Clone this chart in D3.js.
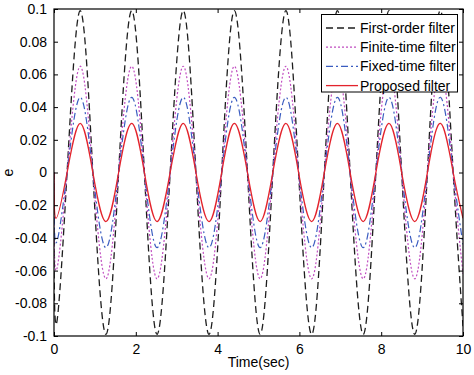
<!doctype html>
<html>
<head>
<meta charset="utf-8">
<script src="https://cdn.jsdelivr.net/npm/d3@7/dist/d3.min.js"></script>
<style>
  body { margin: 0; background: #fff; }
  svg { font-family: "Liberation Sans", Arial, sans-serif; }
</style>
</head>
<body>
<div id="chart"></div>
<script>
// node times (s): start, first dip, then zero crossings / extremes
var time = [0, 0.05, 0.32, 0.64, 0.95, 1.27, 1.58, 1.90, 2.21, 2.52, 2.84, 3.16, 3.47, 3.79, 4.10, 4.41, 4.73,
            5.04, 5.35, 5.67, 5.98, 6.30, 6.61, 6.93, 7.24, 7.56, 7.87, 8.19, 8.50, 8.82, 9.13, 9.45, 9.76, 10];

var firstOrder = [0, -0.093, 0, 0.099, 0, -0.099, 0, 0.099, 0, -0.099, 0, 0.099, 0, -0.099, 0, 0.099, 0,
                  -0.099, 0, 0.099, 0, -0.099, 0, 0.099, 0, -0.099, 0, 0.099, 0, -0.099, 0, 0.099, 0, -0.094];
var finiteTime = [0, -0.060, 0, 0.065, 0, -0.065, 0, 0.065, 0, -0.065, 0, 0.065, 0, -0.065, 0, 0.065, 0,
                  -0.065, 0, 0.065, 0, -0.065, 0, 0.065, 0, -0.065, 0, 0.065, 0, -0.065, 0, 0.065, 0, -0.062];
var fixedTime = [0, -0.043, 0, 0.046, 0, -0.046, 0, 0.046, 0, -0.046, 0, 0.046, 0, -0.046, 0, 0.046, 0,
                 -0.046, 0, 0.046, 0, -0.046, 0, 0.046, 0, -0.046, 0, 0.046, 0, -0.046, 0, 0.046, 0, -0.044];
var proposed = [0, -0.028, 0, 0.030, 0, -0.030, 0, 0.030, 0, -0.030, 0, 0.030, 0, -0.030, 0, 0.030, 0,
                -0.030, 0, 0.030, 0, -0.030, 0, 0.030, 0, -0.030, 0, 0.030, 0, -0.030, 0, 0.030, 0, -0.028];

var seriesNames = ["First-order filter", "Finite-time filter", "Fixed-time filter", "Proposed filter"];
var xTicks = [0, 2, 4, 6, 8, 10];
var yTicks = [-0.1, -0.08, -0.06, -0.04, -0.02, 0, 0.02, 0.04, 0.06, 0.08, 0.1];

var styles = [
  { color: "#1e1e1e", dash: "7,4", width: 1.3 },
  { color: "#c04cc0", dash: "2,2", width: 1.2 },
  { color: "#3a5cc0", dash: "7,3,2,3", width: 1.2 },
  { color: "#e3232c", dash: null, width: 1.3 }
];
var allSeries = [firstOrder, finiteTime, fixedTime, proposed];

var W = 474, H = 375;
var pLeft = 54, pRight = 463, pTop = 9, pBottom = 336;

var svg = d3.select("#chart").append("svg")
  .attr("width", W).attr("height", H);

var x = d3.scaleLinear().domain([0, 10]).range([pLeft, pRight]);
var y = d3.scaleLinear().domain([-0.1, 0.1]).range([pBottom, pTop]);

svg.append("clipPath").attr("id", "clip")
  .append("rect").attr("x", pLeft).attr("y", pTop)
  .attr("width", pRight - pLeft).attr("height", pBottom - pTop);

var line = d3.line()
  .x(function(d){ return x(d[0]); })
  .y(function(d){ return y(d[1]); })
  .curve(d3.curveNatural);

var g = svg.append("g").attr("clip-path", "url(#clip)");
allSeries.forEach(function(vals, i){
  var pts = time.map(function(t, k){ return [t, vals[k]]; });
  g.append("path")
    .attr("d", line(pts))
    .attr("fill", "none")
    .attr("stroke", styles[i].color)
    .attr("stroke-width", styles[i].width)
    .attr("stroke-dasharray", styles[i].dash);
});

// axes, ticks inward on all four sides
var tl = 4;
svg.append("g").attr("transform", "translate(0," + pBottom + ")")
  .call(d3.axisBottom(x).tickValues(xTicks).tickSizeInner(-tl).tickSizeOuter(0).tickPadding(8)
        .tickFormat(d3.format("d")));
svg.append("g").attr("transform", "translate(0," + pTop + ")")
  .call(d3.axisTop(x).tickValues(xTicks).tickSizeInner(-tl).tickSizeOuter(0).tickFormat(""));
svg.append("g").attr("transform", "translate(" + pLeft + ",0)")
  .call(d3.axisLeft(y).tickValues(yTicks).tickSizeInner(-tl).tickSizeOuter(0).tickPadding(7)
        .tickFormat(function(d){ return String(+d.toFixed(2)); }));
svg.append("g").attr("transform", "translate(" + pRight + ",0)")
  .call(d3.axisRight(y).tickValues(yTicks).tickSizeInner(-tl).tickSizeOuter(0).tickFormat(""));

svg.selectAll(".domain").remove();
svg.selectAll(".tick line").attr("stroke", "#000").attr("stroke-width", 1);
svg.selectAll(".tick text").attr("font-size", 14).attr("fill", "#000")
  .attr("font-family", "'Liberation Sans', Arial, sans-serif");

svg.append("rect").attr("x", pLeft).attr("y", pTop)
  .attr("width", pRight - pLeft).attr("height", pBottom - pTop)
  .attr("fill", "none").attr("stroke", "#000").attr("stroke-width", 1.2);

svg.append("text").attr("x", (pLeft + pRight) / 2).attr("y", 367)
  .attr("text-anchor", "middle").attr("font-size", 14).text("Time(sec)");
svg.append("text").attr("transform", "translate(13," + y(0) + ") rotate(-90)")
  .attr("text-anchor", "middle").attr("font-size", 14).text("e");

// legend
var lg = svg.append("g");
lg.append("rect").attr("x", 321.5).attr("y", 14.5).attr("width", 136).attr("height", 77.5)
  .attr("fill", "#fff").attr("stroke", "#000").attr("stroke-width", 1);
seriesNames.forEach(function(name, i){
  var yy = 28 + i * 19.2;
  lg.append("line").attr("x1", 326).attr("x2", 358).attr("y1", yy).attr("y2", yy)
    .attr("stroke", styles[i].color).attr("stroke-width", styles[i].width)
    .attr("stroke-dasharray", styles[i].dash);
  lg.append("text").attr("x", 360).attr("y", yy + 5).attr("font-size", 14).text(name);
});
</script>
</body>
</html>
